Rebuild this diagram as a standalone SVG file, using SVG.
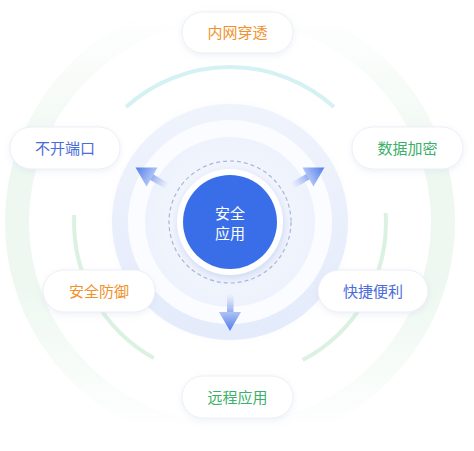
<svg xmlns="http://www.w3.org/2000/svg" width="474" height="451" viewBox="0 0 474 451">
<defs>
<style>
.pill{fill:#ffffff;stroke:#eceff5;stroke-width:1;filter:url(#sh)}
.lbl{font-family:"Noto Sans CJK SC","Noto Sans",sans-serif;font-size:15px;text-anchor:middle}
.or{fill:#f0922b}.bl{fill:#4a6cdb}.gr{fill:#3bb06a}
.ctr{font-family:"Noto Sans CJK SC","Noto Sans",sans-serif;font-size:15px;fill:#ffffff;text-anchor:middle}
</style>
<filter id="sh" x="-20%" y="-30%" width="140%" height="170%">
<feDropShadow dx="0" dy="2" stdDeviation="3" flood-color="#b8c4e0" flood-opacity="0.25"/>
</filter>
<filter id="csh" x="-40%" y="-40%" width="180%" height="180%">
<feDropShadow dx="1" dy="3" stdDeviation="4" flood-color="#9fb4e6" flood-opacity="0.45"/>
</filter>
<linearGradient id="gOuter" x1="0" y1="0" x2="0" y2="1">
<stop offset="0" stop-color="#eef8f1" stop-opacity="0"/>
<stop offset="0.38" stop-color="#eef8f1" stop-opacity="1"/>
<stop offset="0.66" stop-color="#eef8f1" stop-opacity="1"/>
<stop offset="1" stop-color="#eef8f1" stop-opacity="0"/>
</linearGradient>
<linearGradient id="gBand" x1="0" y1="0" x2="0" y2="1">
<stop offset="0" stop-color="#eff3fc"/>
<stop offset="1" stop-color="#e4ebfb"/>
</linearGradient>
<radialGradient id="gGlow" cx="0.5" cy="0.5" r="0.5">
<stop offset="0.8" stop-color="#eef2fc" stop-opacity="1"/>
<stop offset="1" stop-color="#f6f8fe" stop-opacity="0"/>
</radialGradient>
<radialGradient id="gInner" cx="0.5" cy="0.5" r="0.5">
<stop offset="0" stop-color="#f8faff"/>
<stop offset="1" stop-color="#eef2fc"/>
</radialGradient>
<linearGradient id="gStem" x1="0" y1="0" x2="0" y2="1">
<stop offset="0" stop-color="#a9bdf3" stop-opacity="0"/>
<stop offset="1" stop-color="#8ea8ef" stop-opacity="1"/>
</linearGradient>
<linearGradient id="gHead" x1="0" y1="0" x2="0" y2="1">
<stop offset="0" stop-color="#aec2f6"/>
<stop offset="1" stop-color="#4f7de8"/>
</linearGradient>
<g id="arrow">
<rect x="227" y="294" width="6.5" height="19" fill="url(#gStem)"/>
<polygon points="219,312 241,312 230,331" fill="url(#gHead)"/>
</g>
</defs>
<rect width="474" height="451" fill="#ffffff"/>

<g id="background">
<circle cx="230" cy="222" r="213" fill="none" stroke="url(#gOuter)" stroke-width="24"/>
<path d="M126.1,107 A155,155 0 0 1 333.9,107" fill="none" stroke="#d4f1f4" stroke-width="4"/>
<path d="M74.2,215 A156,156 0 0 0 153.6,358" fill="none" stroke="#dbf2e2" stroke-width="4"/>
<path d="M385.7,213 A156,156 0 0 1 302.7,360" fill="none" stroke="#dbf2e2" stroke-width="4"/>
<circle cx="230" cy="222" r="124" fill="url(#gGlow)"/>
<circle cx="230" cy="222" r="110" fill="none" stroke="url(#gBand)" stroke-width="16"/>
<circle cx="230" cy="222" r="102" fill="#fbfcff"/>
<circle cx="230" cy="222" r="85" fill="url(#gInner)"/>
<circle cx="230" cy="222" r="61" fill="none" stroke="#aab7d6" stroke-width="1.2" stroke-dasharray="4 3"/>
</g>

<g id="center">
<circle cx="230" cy="222" r="53" fill="#ffffff" filter="url(#csh)"/>
<circle cx="230" cy="222" r="47" fill="#3a6ee8"/>
<text class="ctr" x="230" y="219">安全</text>
<text class="ctr" x="230" y="239">应用</text>
</g>

<g id="connectors">
<use href="#arrow"/>
<use href="#arrow" transform="rotate(120 230 222)"/>
<use href="#arrow" transform="rotate(-120 230 222)"/>
</g>

<g id="node-nwct">
<rect class="pill" x="182" y="12" width="111" height="41" rx="20.5"/>
<text class="lbl or" x="237.5" y="38">内网穿透</text>
</g>
<g id="node-bkdk">
<rect class="pill" x="10" y="127" width="110" height="42" rx="21"/>
<text class="lbl bl" x="65" y="153.5">不开端口</text>
</g>
<g id="node-sjjm">
<rect class="pill" x="352" y="127" width="111" height="42" rx="21"/>
<text class="lbl gr" x="407.5" y="153.5">数据加密</text>
</g>
<g id="node-aqfy">
<rect class="pill" x="43" y="270" width="112" height="42" rx="21"/>
<text class="lbl or" x="99" y="296.5">安全防御</text>
</g>
<g id="node-kjbl">
<rect class="pill" x="318" y="270" width="110" height="42" rx="21"/>
<text class="lbl bl" x="373" y="296.5">快捷便利</text>
</g>
<g id="node-ycyy">
<rect class="pill" x="182" y="376" width="111" height="42" rx="21"/>
<text class="lbl gr" x="237.5" y="402.5">远程应用</text>
</g>
</svg>
